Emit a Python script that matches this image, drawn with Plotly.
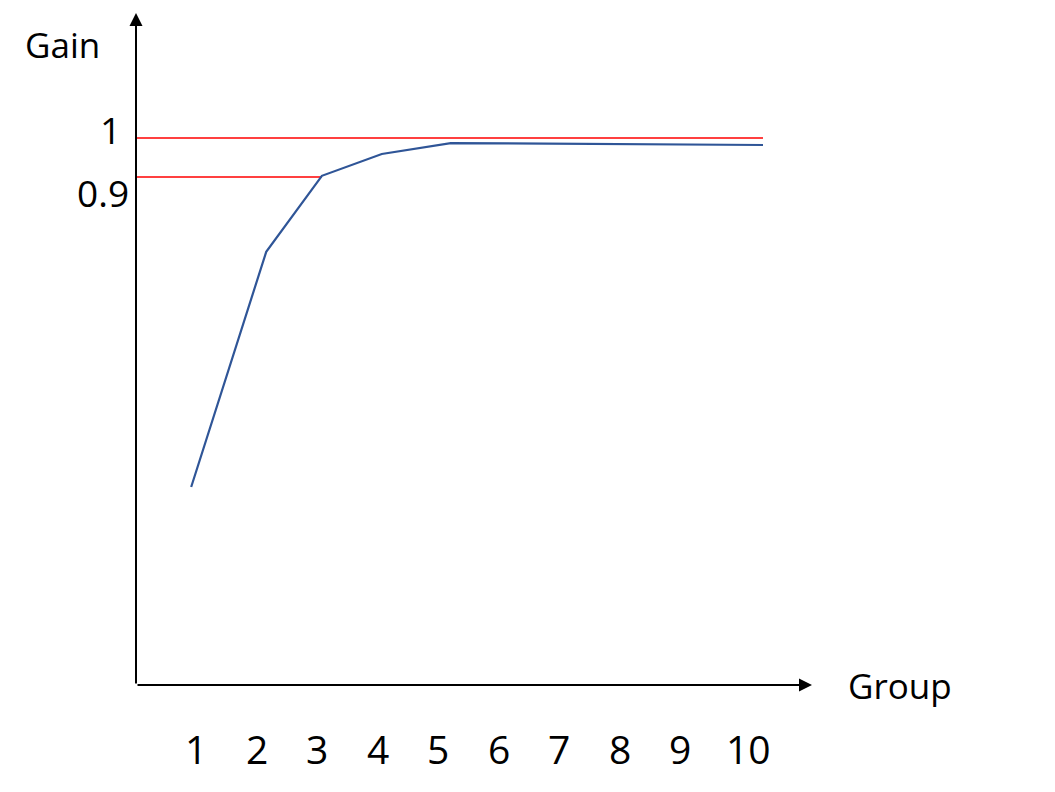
import plotly.graph_objects as go

# ---- data ----
groups = [0.92, 2.16, 3.08, 4.07, 5.21, 6.25, 7.28, 8.31, 9.34, 10.37]
gain = [0.105, 0.708, 0.903, 0.959, 0.987, 0.986, 0.985, 0.984, 0.983, 0.982]
tick_vals = [1, 2, 3, 4, 5, 6, 7, 8, 9, 10]
tick_text = ["1", "2", "3", "4", "5", "6", "7", "8", "9", "10"]
y_label_vals = [1.0, 0.9]
y_label_text = ["1", "0.9"]
ref_levels = [1.0, 0.9]
ref_end_x = [groups[-1], groups[2]]

X0, X1 = 0.008, 11.18
Y0, Y1 = -0.4026, 1.3205

FONT = "Open Sans"
BLUE = "#2F5597"
RED = "#FF0000"

fig = go.Figure()

# red reference lines
for lvl, xe in zip(ref_levels, ref_end_x):
    fig.add_trace(go.Scatter(x=[X0, xe], y=[lvl, lvl], mode="lines",
                             line=dict(color=RED, width=1.3),
                             hoverinfo="skip", showlegend=False))

# gain curve
fig.add_trace(go.Scatter(x=groups, y=gain, mode="lines",
                         line=dict(color=BLUE, width=2.2),
                         showlegend=False))

annotations = []
# axes with arrowheads
annotations.append(dict(x=X1, y=Y0, ax=X0, ay=Y0, xref="x", yref="y",
                        axref="x", ayref="y", showarrow=True, arrowhead=2,
                        arrowsize=1.3, arrowwidth=2, arrowcolor="black", text=""))
annotations.append(dict(x=X0, y=Y1, ax=X0, ay=Y0, xref="x", yref="y",
                        axref="x", ayref="y", showarrow=True, arrowhead=2,
                        arrowsize=1.3, arrowwidth=2, arrowcolor="black", text=""))

# x tick labels
for v, t in zip(tick_vals, tick_text):
    annotations.append(dict(x=v, y=0, xref="x", yref="paper", text=t,
                            showarrow=False, yanchor="middle", xanchor="center",
                            yshift=-63, xshift=8 if t == "10" else 0,
                            font=dict(family=FONT, size=39, color="black")))

# y labels
y_shifts = [8, -16]
x_shifts = [-13, -5]
for v, t, ys, xs in zip(y_label_vals, y_label_text, y_shifts, x_shifts):
    annotations.append(dict(x=0, y=v, xref="paper", yref="y", text=t,
                            showarrow=False, xanchor="right", yanchor="middle",
                            yshift=ys, xshift=xs,
                            font=dict(family=FONT, size=37, color="black")))

# axis titles
annotations.append(dict(x=0, y=1, xref="paper", yref="paper", text="Gain",
                        showarrow=False, xanchor="center", yanchor="middle",
                        xshift=-74, yshift=-31,
                        font=dict(family=FONT, size=35, color="black")))
annotations.append(dict(x=1, y=0, xref="paper", yref="paper", text="Group",
                        showarrow=False, xanchor="center", yanchor="middle",
                        xshift=88, yshift=0,
                        font=dict(family=FONT, size=35, color="black")))

fig.update_layout(
    width=1055, height=792,
    margin=dict(l=128, r=251, t=5, b=115),
    paper_bgcolor="white", plot_bgcolor="white",
    xaxis=dict(range=[X0, X1], visible=False),
    yaxis=dict(range=[Y0, Y1], visible=False),
    annotations=annotations,
    showlegend=False,
)

fig.write_html("out.html")
